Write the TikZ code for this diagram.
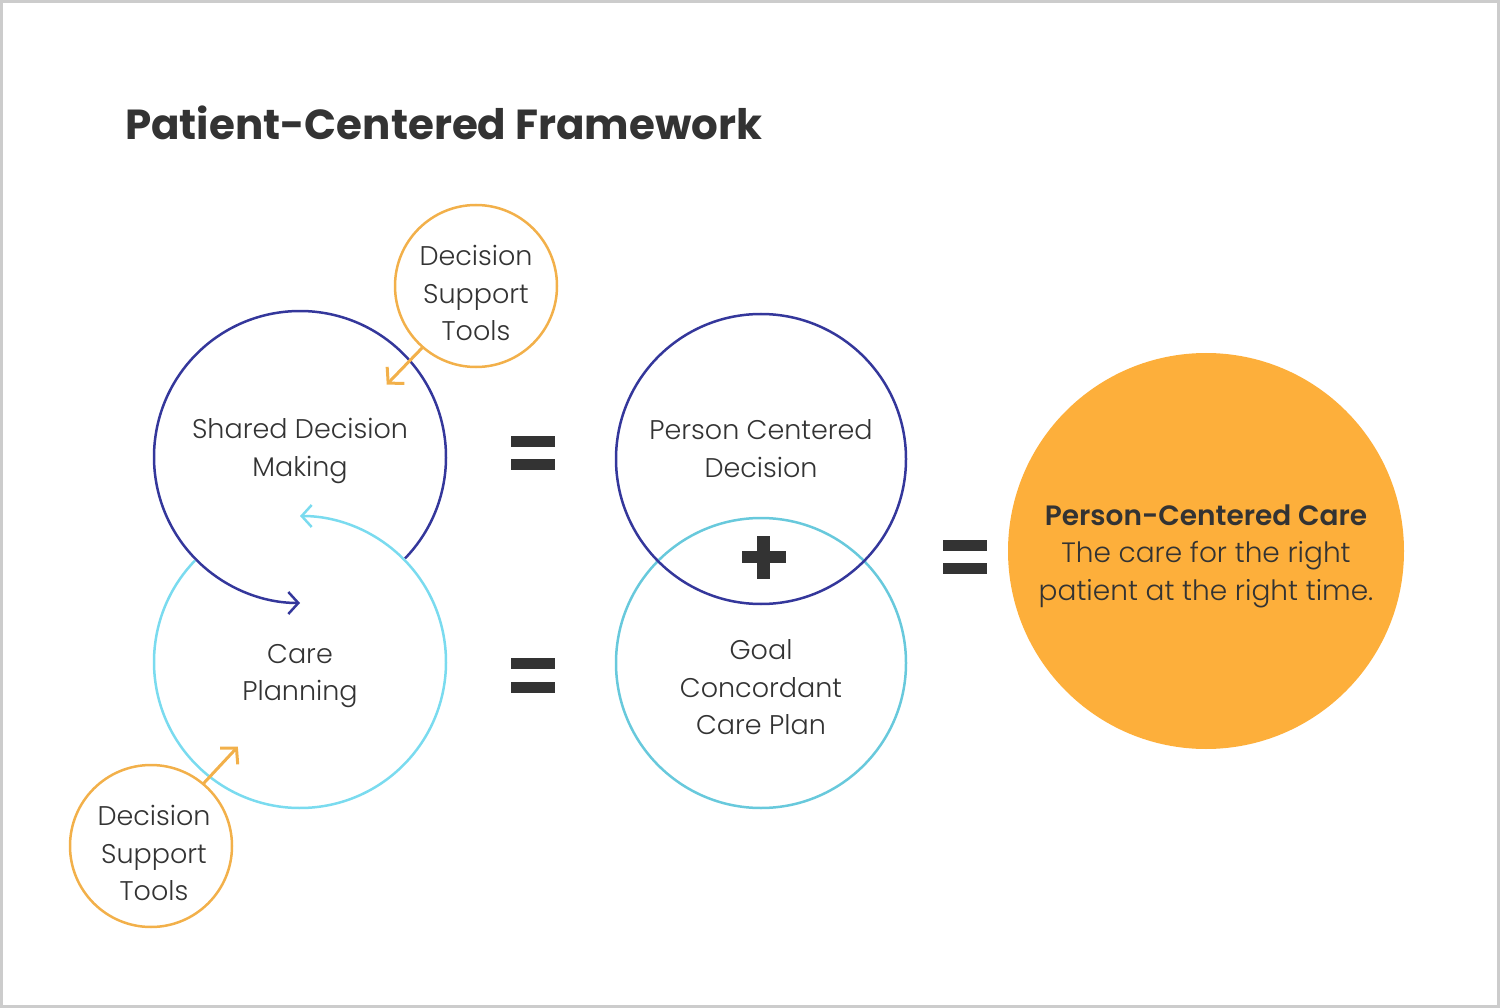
\documentclass[tikz,border=0pt]{standalone}
\usepackage{fontspec}
\setmainfont{Poppins}[UprightFont=* Light, BoldFont=* SemiBold]
\newfontfamily\titlefont{Poppins}[UprightFont=* Bold]
\usetikzlibrary{arrows.meta}
\definecolor{navy}{HTML}{34379B}
\definecolor{sky}{HTML}{7ADBEF}
\definecolor{sky2}{HTML}{68C9DC}
\definecolor{amber}{HTML}{F2B04A}
\definecolor{amberfill}{HTML}{FDAF3B}
\definecolor{ink}{HTML}{333333}
\definecolor{framegrey}{HTML}{CCCCCC}
\begin{document}
\begin{tikzpicture}[x=1pt,y=1pt,
  ring/.style={circle, draw, line width=2.5pt, minimum size=#1, inner sep=0pt, outer sep=0pt},
  lbl/.style={text=ink, align=center, inner sep=0pt, font=\fontsize{27}{37.5}\selectfont},
  chev/.style={-{Straight Barb[length=10pt,width=22pt,line width=2.5pt]}, line width=2.5pt},
  ochev/.style={-{Straight Barb[length=11pt,width=24pt,line width=3pt]}, line width=3pt, amber}
]
\path[use as bounding box] (0,0) rectangle (1500,-1008);
\draw[framegrey, line width=3pt] (1.5,-1.5) rectangle (1498.5,-1006.5);

\node[anchor=base west, inner sep=0pt, text=ink, font=\titlefont\fontsize{42}{42}\selectfont] (title) at (125,-140) {Patient-Centered Framework};

% left interlocking arcs
\coordinate (sdmc) at (300,-457);
\coordinate (cpc) at (300,-662);
\draw[navy, chev] ([shift={(-44:146)}]sdmc) arc[start angle=-44, end angle=270, radius=146];
\draw[sky, chev] ([shift={(136:146)}]cpc) arc[start angle=136, end angle=450, radius=146];
\node[lbl] (sdm) at (300,-451) {Shared Decision\\Making};
\node[lbl] (cp) at (300,-676) {Care\\Planning};

% decision support tools
\node[ring=162pt, amber] (dst1) at (476,-286) {};
\node[lbl] (dst1t) at (476,-293) {Decision\\Support\\Tools};
\node[ring=162pt, amber] (dst2) at (151,-846) {};
\node[lbl] (dst2t) at (154,-853) {Decision\\Support\\Tools};
\draw[ochev] (dst1.229) -- ++(226:52);
\draw[ochev] (dst2.50) -- ++(47:51);

% right circles
\node[ring=290pt, sky2] (gccp) at (761,-663) {};
\node[ring=290pt, navy] (pcd) at (761,-459) {};
\node[lbl] (pcdt) at (761,-448.5) {Person Centered\\Decision};
\node[lbl] (gccpt) at (761,-687.5) {Goal\\Concordant\\Care Plan};

% big circle
\node[circle, fill=amberfill, minimum size=396pt, inner sep=0pt] (pcc) at (1206,-551) {};
\node[lbl, font=\fontsize{28}{37.5}\selectfont] (pcct) at (1206,-556) {\textbf{Person-Centered Care}\\The care for the right\\patient at the right time.};

% equals and plus
\fill[ink] (510.5,-435.5) rectangle (554.5,-446.5);
\fill[ink] (510.5,-459) rectangle (554.5,-470);
\fill[ink] (510.5,-658) rectangle (554.5,-669);
\fill[ink] (510.5,-681.5) rectangle (554.5,-692.5);
\fill[ink] (942.5,-539.5) rectangle (986.5,-550.5);
\fill[ink] (942.5,-562.5) rectangle (986.5,-573.5);
\fill[ink] (741.5,-551) rectangle (785.5,-563);
\fill[ink] (757,-535.5) rectangle (770,-578.5);
\end{tikzpicture}
\end{document}
